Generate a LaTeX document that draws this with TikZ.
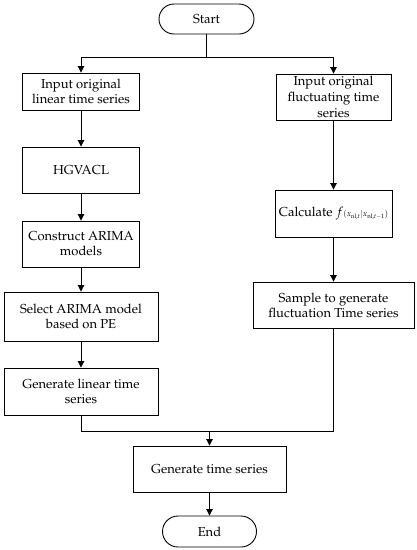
\documentclass[tikz,border=0pt]{standalone}
\usepackage[T1]{fontenc}
\usepackage{mathpazo}
\usetikzlibrary{arrows.meta,shapes.misc}
\begin{document}
\begin{tikzpicture}[x=1pt,y=1pt,
  box/.style={draw,line width=0.9pt,rectangle,align=center,font=\fontsize{13}{15}\selectfont,inner sep=1pt},
  term/.style={draw,line width=0.9pt,rounded rectangle,align=center,font=\fontsize{13}{15}\selectfont,inner sep=1pt},
  arr/.style={line width=0.9pt,-{Triangle[width=6.5pt,length=6.5pt]}},
  ln/.style={line width=0.9pt}]
\useasboundingbox (0,0) rectangle (417,-550);
\node[term,minimum width=97pt,minimum height=30pt] (start) at (206.5,-19) {Start};
\node[box,minimum width=117pt,minimum height=37pt] (l1) at (81,-91.5) {Input original\\linear time series};
\node[box,minimum width=117pt,minimum height=46pt] (l2) at (81,-170) {HGVACL};
\node[box,minimum width=117pt,minimum height=46pt] (l3) at (81,-244) {Construct ARIMA\\models};
\node[box,minimum width=154pt,minimum height=49pt] (l4) at (81,-316.5) {Select ARIMA model\\based on PE};
\node[box,minimum width=154pt,minimum height=47pt] (l5) at (81,-391.5) {Generate linear time\\series};
\node[box,minimum width=115pt,minimum height=46pt,font=\fontsize{13}{16}\selectfont] (r1) at (333.5,-97) {Input original\\fluctuating time\\series};
\node[box,minimum width=117pt,minimum height=47pt] (r2) at (333.5,-213.5) {Calculate $f${\footnotesize$(x_{\mathrm{nl},t}|x_{\mathrm{nl},t-1})$}};
\node[box,minimum width=161pt,minimum height=46pt] (r3) at (333.5,-305) {Sample to generate\\fluctuation Time series};
\node[box,minimum width=153pt,minimum height=46pt] (g) at (209.5,-469) {Generate time series};
\node[term,minimum width=96pt,minimum height=31pt] (e) at (209.5,-531.5) {End};
\coordinate (split) at (206.5,-57);
\coordinate (merge) at (209.5,-431);
\draw[ln] (start) -- (split);
\draw[arr] (split) -| (l1);
\draw[arr] (split) -| (r1);
\draw[arr] (l1) -- (l2);
\draw[arr] (l2) -- (l3);
\draw[arr] (l3) -- (l4);
\draw[arr] (l4) -- (l5);
\draw[arr] (r1) -- (r2);
\draw[arr] (r2) -- (r3);
\draw[ln] (l5) |- (merge);
\draw[ln] (r3) |- (merge);
\draw[arr] (merge) -- (g);
\draw[arr] (g) -- (e);
\end{tikzpicture}
\end{document}
